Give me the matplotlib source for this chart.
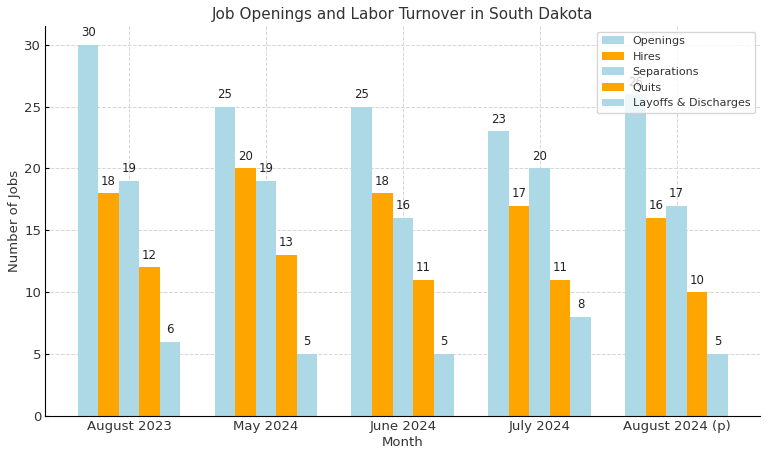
import numpy as np
import matplotlib.pyplot as plt

# Job openings and labor turnover data (thousands)
months = ['August 2023', 'May 2024', 'June 2024', 'July 2024', 'August 2024 (p)']
openings = [30, 25, 25, 23, 26]
hires = [18, 20, 18, 17, 16]
separations = [19, 19, 16, 20, 17]
quits = [12, 13, 11, 11, 10]
layoffs = [6, 5, 5, 8, 5]

series = [
    ('Openings', openings, '#ADD8E6'),
    ('Hires', hires, '#FFA500'),
    ('Separations', separations, '#ADD8E6'),
    ('Quits', quits, '#FFA500'),
    ('Layoffs & Discharges', layoffs, '#ADD8E6'),
]

x = np.arange(len(months))
width = 0.15

fig, ax = plt.subplots(figsize=(7.68, 4.58), dpi=100)
fig.subplots_adjust(left=0.059, right=0.99, top=0.943, bottom=0.092)

for i, (name, vals, color) in enumerate(series):
    bars = ax.bar(x + (i - 2) * width, vals, width, label=name, color=color, zorder=2)
    for b in bars:
        ax.annotate(str(int(b.get_height())), (b.get_x() + b.get_width() / 2, b.get_height()),
                    xytext=(0, 4), textcoords='offset points', ha='center', va='bottom',
                    fontsize=8.5, color='#222222', zorder=1)

ax.set_title('Job Openings and Labor Turnover in South Dakota', fontsize=11, color='#333333', pad=5)
ax.set_xlabel('Month', fontsize=9.5, color='#333333', labelpad=2)
ax.set_ylabel('Number of Jobs', fontsize=9.5, color='#333333', labelpad=2)
ax.set_xticks(x)
ax.set_xticklabels(months, fontsize=9.5, color='#333333')
ax.tick_params(axis='both', direction='in', length=3, pad=3, labelsize=9.5, labelcolor='#333333')
ax.grid(True, linestyle='--', color='#d5d5d5', linewidth=0.7, zorder=0)
ax.set_axisbelow(True)
ax.spines['top'].set_visible(False)
ax.spines['right'].set_visible(False)
ax.legend(loc='upper right', fontsize=8, framealpha=0.8, labelcolor='#333333')

plt.savefig('out.png')
